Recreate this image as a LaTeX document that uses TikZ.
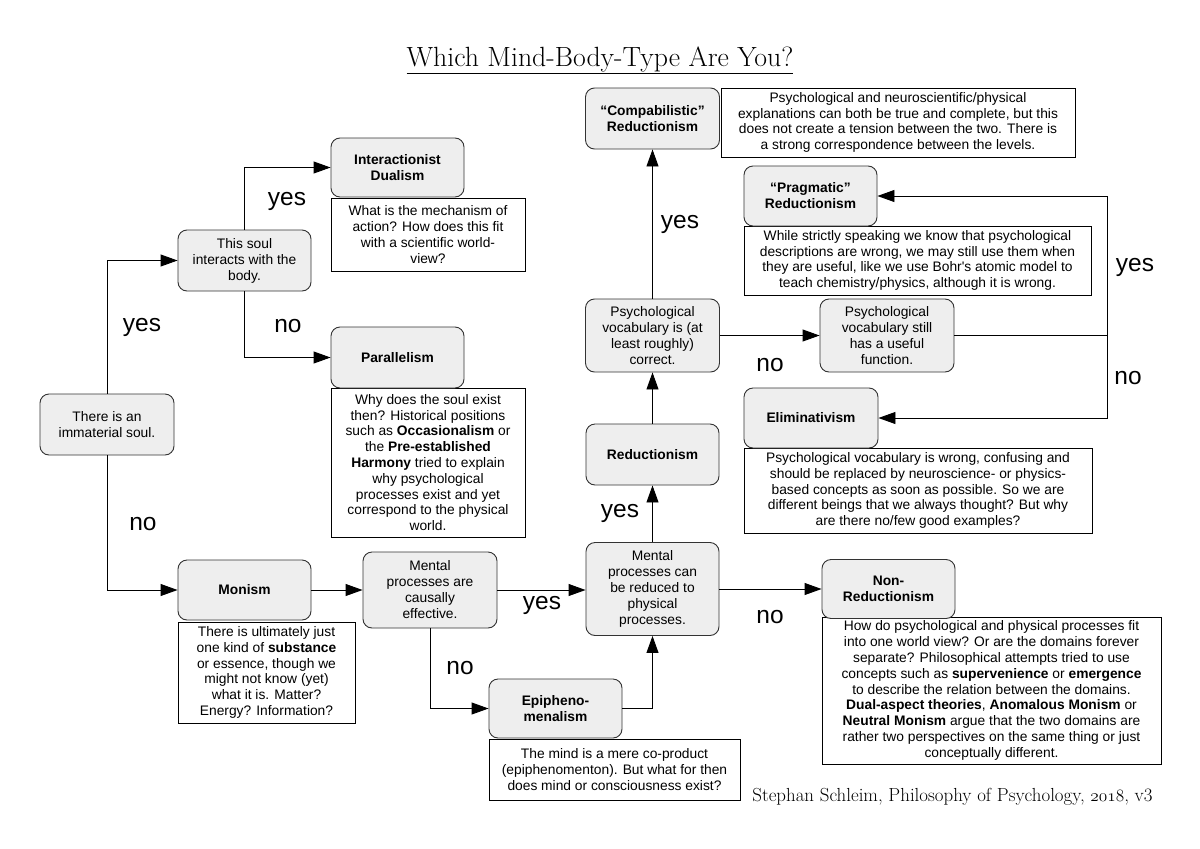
\documentclass[tikz,border=0pt]{standalone}
\usepackage{fontspec}
\newfontfamily\sansf{Liberation Sans}
\usetikzlibrary{arrows.meta}
\definecolor{boxfill}{HTML}{EEEEEE}
\definecolor{boxline}{HTML}{333333}
\tikzset{
  gbox/.style={draw=boxline, fill=boxfill, rounded corners=9pt, line width=0.9pt, align=center, inner sep=1pt, font=\sansf\fontsize{13.8}{16}\selectfont},
  gtitle/.style={gbox, font=\sansf\bfseries\fontsize{13.8}{16}\selectfont},
  note/.style={draw=black, fill=white, line width=0.8pt, align=center, inner sep=0pt, font=\sansf\fontsize{13.8}{15.8}\selectfont},
  lbl/.style={font=\sansf\fontsize{24.5}{26}\selectfont, inner sep=0pt},
  arr/.style={line width=0.9pt, -{Triangle[length=17pt,width=12pt]}},
  ln/.style={line width=0.9pt}
}
\begin{document}
\begin{tikzpicture}[x=1pt,y=-1pt]
\fill[white] (0,0) rectangle (1200,849);
\useasboundingbox (0,0) rectangle (1200,849);

% title and signature
\node[anchor=base, inner sep=0pt, font=\fontsize{27.8}{30}\selectfont] (title) at (600,66.5) {\underline{Which Mind-Body-Type Are You?}};
\node[anchor=base, inner sep=0pt, font=\fontsize{18.9}{22}\selectfont] (sig) at (952.5,801) {Stephan Schleim, Philosophy of Psychology, {\usefont{OML}{cmm}{m}{it}2018}, v3};

% notes
\node[note, minimum width=194pt, minimum height=73pt] (interN) at (428,234.5) {What is the mechanism of\\action? How does this fit\\with a scientific world-\\view?};
\node[note, minimum width=194pt, minimum height=149pt] (parN) at (428,462.5) {Why does the soul exist\\then? Historical positions\\such as \textbf{Occasionalism} or\\the \textbf{Pre-established}\\\textbf{Harmony} tried to explain\\why psychological\\processes exist and yet\\correspond to the physical\\world.};
\node[note, minimum width=177pt, minimum height=101pt] (monN) at (266.5,672.5) {There is ultimately just\\one kind of \textbf{substance}\\or essence, though we\\might not know (yet)\\what it is. Matter?\\Energy? Information?};
\node[note, minimum width=251pt, minimum height=61pt] (epiN) at (614.5,769.5) {The mind is a mere co-product\\(epiphenomenton). But what for then\\does mind or consciousness exist?};
\node[note, minimum width=354pt, minimum height=69pt] (compN) at (898,122.5) {Psychological and neuroscientific/physical\\explanations can both be true and complete, but this\\does not create a tension between the two. There is\\a strong correspondence between the levels.};
\node[note, minimum width=347pt, minimum height=69pt] (pragN) at (917.5,260.5) {While strictly speaking we know that psychological\\descriptions are wrong, we may still use them when\\they are useful, like we use Bohr's atomic model to\\teach chemistry/physics, although it is wrong.};
\node[note, minimum width=348pt, minimum height=85pt] (elimN) at (918,490.5) {Psychological vocabulary is wrong, confusing and\\should be replaced by neuroscience- or physics-\\based concepts as soon as possible. So we are\\different beings that we always thought? But why\\are there no/few good examples?};
\node[note, minimum width=339pt, minimum height=147pt] (nonN) at (991.5,690.5) {How do psychological and physical processes fit\\into one world view? Or are the domains forever\\separate? Philosophical attempts tried to use\\concepts such as \textbf{supervenience} or \textbf{emergence}\\to describe the relation between the domains.\\\textbf{Dual-aspect theories}, \textbf{Anomalous Monism} or\\\textbf{Neutral Monism} argue that the two domains are\\rather two perspectives on the same thing or just\\conceptually different.};

% gray boxes
\node[gbox, minimum width=134pt, minimum height=61pt] (soul) at (107,424.5) {There is an\\immaterial soul.};
\node[gbox, minimum width=133pt, minimum height=61pt] (inter) at (244.5,260.5) {This soul\\interacts with the\\body.};
\node[gtitle, minimum width=133pt, minimum height=59pt] (dual) at (397.5,167.5) {Interactionist\\Dualism};
\node[gtitle, minimum width=133pt, minimum height=61pt] (par) at (397.5,357.5) {Parallelism};
\node[gtitle, minimum width=133pt, minimum height=60pt] (mon) at (244.5,590) {Monism};
\node[gbox, minimum width=134pt, minimum height=76pt] (causal) at (430,590) {Mental\\processes are\\causally\\effective.};
\node[gtitle, minimum width=133pt, minimum height=59pt] (epi) at (555.5,708.5) {Epipheno-\\menalism};
\node[gbox, minimum width=133pt, minimum height=93pt] (red) at (652.5,589) {Mental\\processes can\\be reduced to\\physical\\processes.};
\node[gtitle, minimum width=133pt, minimum height=61pt] (reduc) at (652.5,454.5) {Reductionism};
\node[gbox, minimum width=134pt, minimum height=73pt] (vocab) at (652.5,335.5) {Psychological\\vocabulary is (at\\least roughly)\\correct.};
\node[gtitle, minimum width=134pt, minimum height=61pt] (comp) at (652.5,118.5) {“Compabilistic”\\Reductionism};
\node[gtitle, minimum width=133pt, minimum height=60pt] (prag) at (810.5,196) {“Pragmatic”\\Reductionism};
\node[gbox, minimum width=134pt, minimum height=73pt] (still) at (887,335.5) {Psychological\\vocabulary still\\has a useful\\function.};
\node[gtitle, minimum width=134pt, minimum height=60pt] (elim) at (811,418) {Eliminativism};
\node[gtitle, minimum width=133pt, minimum height=59pt] (nonred) at (888.5,589) {Non-\\Reductionism};

% connectors
\draw[arr] (soul.north) |- (inter.west);
\draw[arr] (soul.south) |- (mon.west);
\draw[arr] (inter.north) |- (dual.west);
\draw[arr] (inter.south) |- (par.west);
\draw[arr] (mon.east) -- (causal.west);
\draw[arr] (causal.east) -- (red.west |- causal.east);
\draw[arr] (causal.south) |- (epi.west);
\draw[arr] (epi.east) -| (red.south);
\draw[arr] (red.east) -- (nonred.west);
\draw[arr] (red.north) -- (reduc.south);
\draw[arr] (reduc.north) -- (vocab.south);
\draw[arr] (vocab.north) -- (comp.south);
\draw[arr] (vocab.east) -- (still.west);
\coordinate (rj) at (1107,335.5);
\draw[ln] (still.east) -- (rj);
\draw[arr] (rj) |- (prag.east);
\draw[arr] (rj) |- (elim.east);

% labels
\node[lbl] (l1) at (287,201) {yes};
\node[lbl] (l2) at (288,326) {no};
\node[lbl] (l3) at (142,327) {yes};
\node[lbl] (l4) at (143,524) {no};
\node[lbl] (l5) at (542,605) {yes};
\node[lbl] (l6) at (460,668) {no};
\node[lbl] (l7) at (620,513) {yes};
\node[lbl] (l8) at (680,224) {yes};
\node[lbl] (l9) at (770,365) {no};
\node[lbl] (l10) at (1135,267) {yes};
\node[lbl] (l11) at (1128,378) {no};
\node[lbl] (l12) at (770,617) {no};
\end{tikzpicture}
\end{document}
